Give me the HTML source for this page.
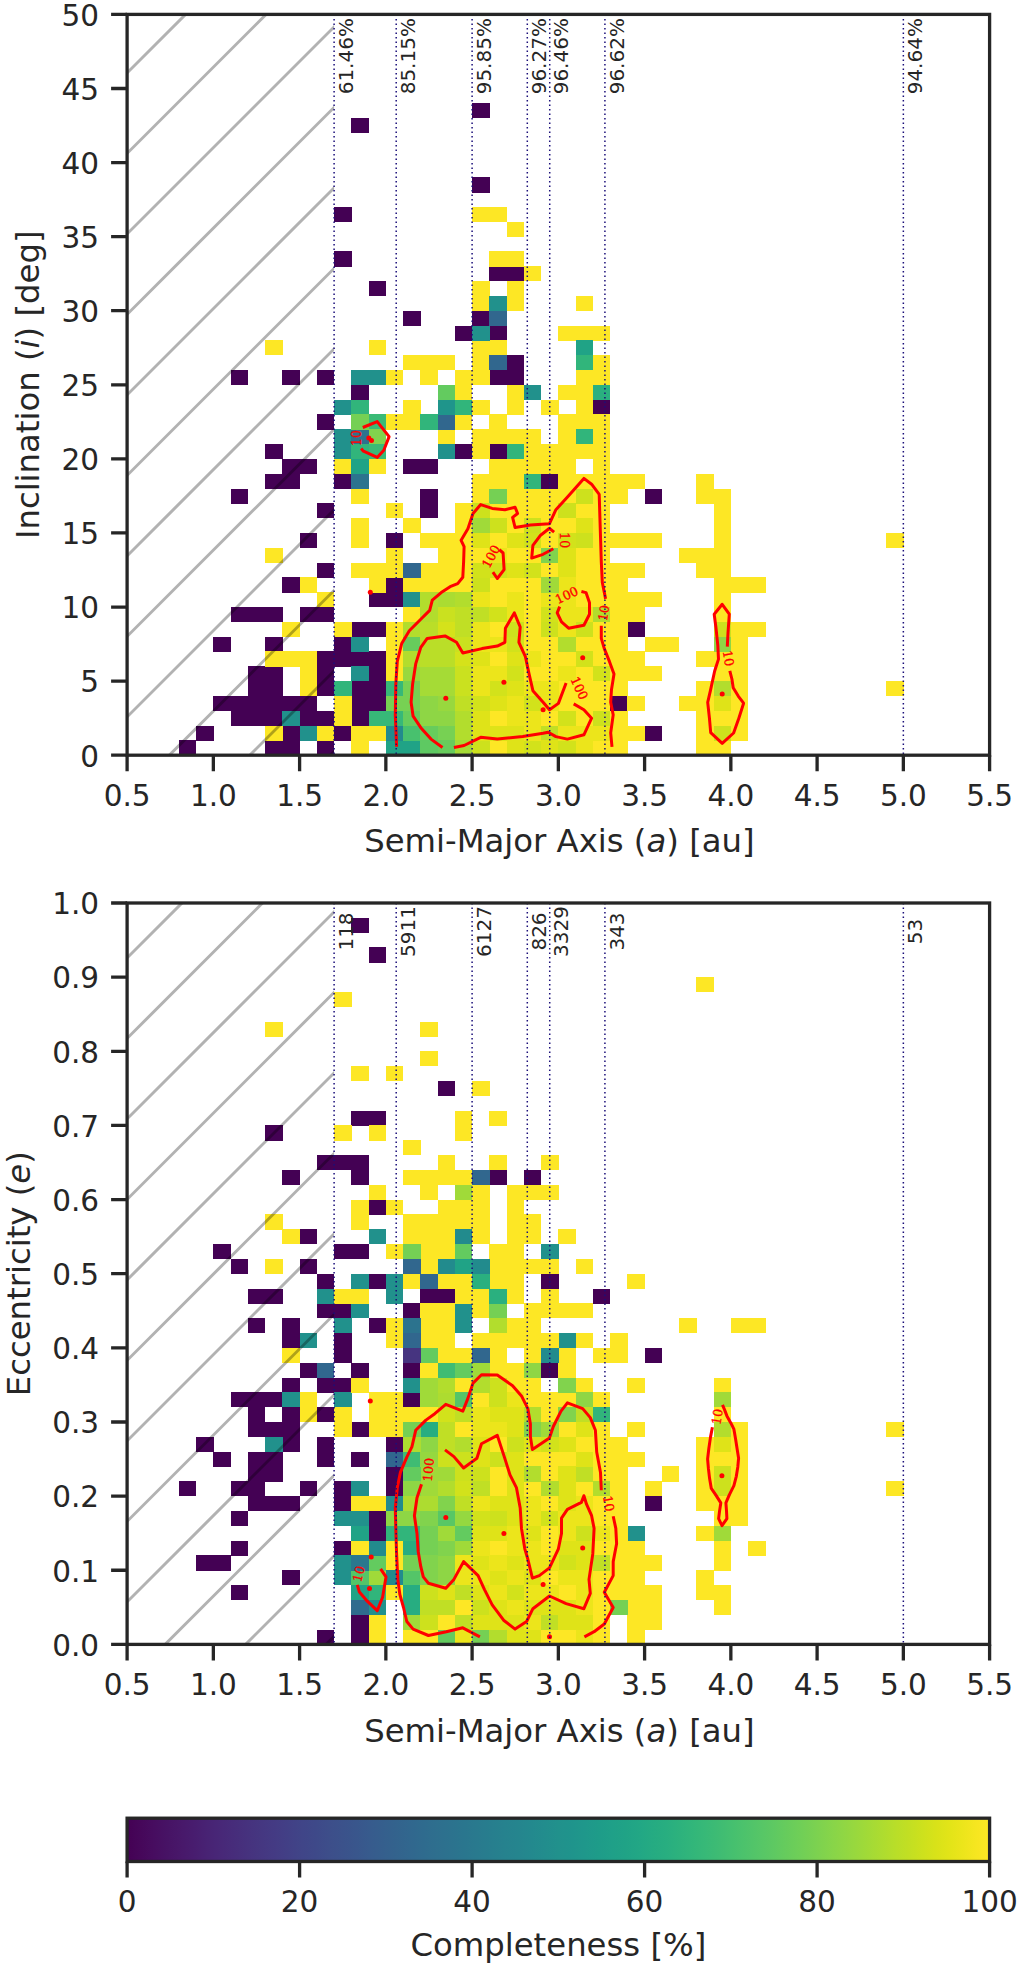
<!DOCTYPE html>
<html lang="en"><head><meta charset="utf-8"><title>Completeness</title>
<style>html,body{margin:0;padding:0;background:#fff}svg{display:block}</style></head>
<body>
<svg width="1020" height="1967" viewBox="0 0 1020 1967" font-family="'DejaVu Sans', 'Liberation Sans', sans-serif">
<rect width="1020" height="1967" fill="#fff"/>
<g id="plot1">
<clipPath id="clip1"><rect x="127.1" y="14.4" width="862.5" height="740.8000000000001"/></clipPath>
<clipPath id="hclip1"><rect x="127.1" y="14.4" width="207.00" height="740.8000000000001"/></clipPath>
<g shape-rendering="crispEdges">
<path fill="#440154" d="M178.85 740.38h17.55v15.12h-17.55zM196.10 725.57h17.55v15.12h-17.55zM213.35 695.94h17.55v15.12h-17.55zM213.35 636.67h17.55v15.12h-17.55zM230.60 710.75h17.55v15.12h-17.55zM230.60 695.94h17.55v15.12h-17.55zM230.60 607.04h17.55v15.12h-17.55zM230.60 488.51h17.55v15.12h-17.55zM230.60 369.98h17.55v15.12h-17.55zM247.85 710.75h17.55v15.12h-17.55zM247.85 695.94h17.55v15.12h-17.55zM247.85 681.12h17.55v15.12h-17.55zM247.85 666.30h17.55v15.12h-17.55zM247.85 607.04h17.55v15.12h-17.55zM265.10 740.38h17.55v15.12h-17.55zM265.10 710.75h17.55v15.12h-17.55zM265.10 695.94h17.55v15.12h-17.55zM265.10 681.12h17.55v15.12h-17.55zM265.10 666.30h17.55v15.12h-17.55zM265.10 636.67h17.55v15.12h-17.55zM265.10 607.04h17.55v15.12h-17.55zM265.10 473.70h17.55v15.12h-17.55zM265.10 444.06h17.55v15.12h-17.55zM282.35 740.38h17.55v15.12h-17.55zM282.35 725.57h17.55v15.12h-17.55zM282.35 695.94h17.55v15.12h-17.55zM282.35 577.41h17.55v15.12h-17.55zM282.35 473.70h17.55v15.12h-17.55zM282.35 458.88h17.55v15.12h-17.55zM282.35 369.98h17.55v15.12h-17.55zM299.60 710.75h17.55v15.12h-17.55zM299.60 695.94h17.55v15.12h-17.55zM299.60 607.04h17.55v15.12h-17.55zM299.60 532.96h17.55v15.12h-17.55zM299.60 458.88h17.55v15.12h-17.55zM316.85 740.38h17.55v15.12h-17.55zM316.85 710.75h17.55v15.12h-17.55zM316.85 681.12h17.55v15.12h-17.55zM316.85 666.30h17.55v15.12h-17.55zM316.85 651.49h17.55v15.12h-17.55zM316.85 607.04h17.55v15.12h-17.55zM316.85 562.59h17.55v15.12h-17.55zM316.85 503.33h17.55v15.12h-17.55zM316.85 414.43h17.55v15.12h-17.55zM316.85 369.98h17.55v15.12h-17.55zM334.10 725.57h17.55v15.12h-17.55zM334.10 651.49h17.55v15.12h-17.55zM334.10 636.67h17.55v15.12h-17.55zM334.10 473.70h17.55v15.12h-17.55zM334.10 251.46h17.55v15.12h-17.55zM334.10 207.01h17.55v15.12h-17.55zM351.35 710.75h17.55v15.12h-17.55zM351.35 695.94h17.55v15.12h-17.55zM351.35 681.12h17.55v15.12h-17.55zM351.35 651.49h17.55v15.12h-17.55zM351.35 621.86h17.55v15.12h-17.55zM351.35 384.80h17.55v15.12h-17.55zM351.35 118.11h17.55v15.12h-17.55zM368.60 695.94h17.55v15.12h-17.55zM368.60 681.12h17.55v15.12h-17.55zM368.60 666.30h17.55v15.12h-17.55zM368.60 651.49h17.55v15.12h-17.55zM368.60 621.86h17.55v15.12h-17.55zM368.60 592.22h17.55v15.12h-17.55zM368.60 281.09h17.55v15.12h-17.55zM385.85 592.22h17.55v15.12h-17.55zM385.85 577.41h17.55v15.12h-17.55zM385.85 532.96h17.55v15.12h-17.55zM403.10 458.88h17.55v15.12h-17.55zM403.10 310.72h17.55v15.12h-17.55zM420.35 503.33h17.55v15.12h-17.55zM420.35 488.51h17.55v15.12h-17.55zM420.35 458.88h17.55v15.12h-17.55zM454.85 444.06h17.55v15.12h-17.55zM454.85 325.54h17.55v15.12h-17.55zM472.10 310.72h17.55v15.12h-17.55zM472.10 177.38h17.55v15.12h-17.55zM472.10 103.30h17.55v15.12h-17.55zM489.35 444.06h17.55v15.12h-17.55zM489.35 369.98h17.55v15.12h-17.55zM489.35 325.54h17.55v15.12h-17.55zM489.35 266.27h17.55v15.12h-17.55zM506.60 369.98h17.55v15.12h-17.55zM506.60 355.17h17.55v15.12h-17.55zM506.60 266.27h17.55v15.12h-17.55zM541.10 473.70h17.55v15.12h-17.55zM592.85 399.62h17.55v15.12h-17.55zM610.10 695.94h17.55v15.12h-17.55zM627.35 621.86h17.55v15.12h-17.55zM644.60 725.57h17.55v15.12h-17.55zM644.60 488.51h17.55v15.12h-17.55z"/>
<path fill="#fde725" d="M265.10 725.57h17.55v15.12h-17.55zM265.10 651.49h17.55v15.12h-17.55zM265.10 547.78h17.55v15.12h-17.55zM265.10 340.35h17.55v15.12h-17.55zM282.35 651.49h17.55v15.12h-17.55zM282.35 621.86h17.55v15.12h-17.55zM299.60 681.12h17.55v15.12h-17.55zM299.60 666.30h17.55v15.12h-17.55zM299.60 651.49h17.55v15.12h-17.55zM299.60 577.41h17.55v15.12h-17.55zM316.85 725.57h17.55v15.12h-17.55zM316.85 592.22h17.55v15.12h-17.55zM334.10 710.75h17.55v15.12h-17.55zM334.10 695.94h17.55v15.12h-17.55zM334.10 621.86h17.55v15.12h-17.55zM334.10 458.88h17.55v15.12h-17.55zM351.35 740.38h17.55v15.12h-17.55zM351.35 725.57h17.55v15.12h-17.55zM351.35 562.59h17.55v15.12h-17.55zM351.35 532.96h17.55v15.12h-17.55zM351.35 518.14h17.55v15.12h-17.55zM351.35 488.51h17.55v15.12h-17.55zM368.60 725.57h17.55v15.12h-17.55zM368.60 577.41h17.55v15.12h-17.55zM368.60 562.59h17.55v15.12h-17.55zM368.60 458.88h17.55v15.12h-17.55zM368.60 340.35h17.55v15.12h-17.55zM385.85 666.30h17.55v15.12h-17.55zM385.85 651.49h17.55v15.12h-17.55zM385.85 636.67h17.55v15.12h-17.55zM385.85 621.86h17.55v15.12h-17.55zM385.85 562.59h17.55v15.12h-17.55zM385.85 547.78h17.55v15.12h-17.55zM385.85 503.33h17.55v15.12h-17.55zM385.85 414.43h17.55v15.12h-17.55zM385.85 369.98h17.55v15.12h-17.55zM403.10 607.04h17.55v15.12h-17.55zM403.10 577.41h17.55v15.12h-17.55zM403.10 518.14h17.55v15.12h-17.55zM403.10 414.43h17.55v15.12h-17.55zM403.10 399.62h17.55v15.12h-17.55zM403.10 355.17h17.55v15.12h-17.55zM420.35 577.41h17.55v15.12h-17.55zM420.35 562.59h17.55v15.12h-17.55zM420.35 532.96h17.55v15.12h-17.55zM420.35 369.98h17.55v15.12h-17.55zM420.35 355.17h17.55v15.12h-17.55zM437.60 577.41h17.55v15.12h-17.55zM437.60 562.59h17.55v15.12h-17.55zM437.60 547.78h17.55v15.12h-17.55zM437.60 532.96h17.55v15.12h-17.55zM437.60 429.25h17.55v15.12h-17.55zM437.60 355.17h17.55v15.12h-17.55zM454.85 577.41h17.55v15.12h-17.55zM454.85 562.59h17.55v15.12h-17.55zM454.85 547.78h17.55v15.12h-17.55zM454.85 532.96h17.55v15.12h-17.55zM454.85 518.14h17.55v15.12h-17.55zM454.85 503.33h17.55v15.12h-17.55zM454.85 414.43h17.55v15.12h-17.55zM454.85 384.80h17.55v15.12h-17.55zM454.85 369.98h17.55v15.12h-17.55zM472.10 547.78h17.55v15.12h-17.55zM472.10 488.51h17.55v15.12h-17.55zM472.10 473.70h17.55v15.12h-17.55zM472.10 444.06h17.55v15.12h-17.55zM472.10 429.25h17.55v15.12h-17.55zM472.10 399.62h17.55v15.12h-17.55zM472.10 369.98h17.55v15.12h-17.55zM472.10 355.17h17.55v15.12h-17.55zM472.10 340.35h17.55v15.12h-17.55zM472.10 295.90h17.55v15.12h-17.55zM472.10 281.09h17.55v15.12h-17.55zM472.10 207.01h17.55v15.12h-17.55zM489.35 740.38h17.55v15.12h-17.55zM489.35 710.75h17.55v15.12h-17.55zM489.35 651.49h17.55v15.12h-17.55zM489.35 621.86h17.55v15.12h-17.55zM489.35 592.22h17.55v15.12h-17.55zM489.35 577.41h17.55v15.12h-17.55zM489.35 532.96h17.55v15.12h-17.55zM489.35 503.33h17.55v15.12h-17.55zM489.35 473.70h17.55v15.12h-17.55zM489.35 458.88h17.55v15.12h-17.55zM489.35 429.25h17.55v15.12h-17.55zM489.35 414.43h17.55v15.12h-17.55zM489.35 340.35h17.55v15.12h-17.55zM489.35 251.46h17.55v15.12h-17.55zM489.35 207.01h17.55v15.12h-17.55zM506.60 577.41h17.55v15.12h-17.55zM506.60 547.78h17.55v15.12h-17.55zM506.60 518.14h17.55v15.12h-17.55zM506.60 503.33h17.55v15.12h-17.55zM506.60 488.51h17.55v15.12h-17.55zM506.60 473.70h17.55v15.12h-17.55zM506.60 458.88h17.55v15.12h-17.55zM506.60 429.25h17.55v15.12h-17.55zM506.60 399.62h17.55v15.12h-17.55zM506.60 384.80h17.55v15.12h-17.55zM506.60 295.90h17.55v15.12h-17.55zM506.60 281.09h17.55v15.12h-17.55zM506.60 251.46h17.55v15.12h-17.55zM506.60 221.82h17.55v15.12h-17.55zM523.85 666.30h17.55v15.12h-17.55zM523.85 636.67h17.55v15.12h-17.55zM523.85 621.86h17.55v15.12h-17.55zM523.85 607.04h17.55v15.12h-17.55zM523.85 592.22h17.55v15.12h-17.55zM523.85 577.41h17.55v15.12h-17.55zM523.85 547.78h17.55v15.12h-17.55zM523.85 503.33h17.55v15.12h-17.55zM523.85 488.51h17.55v15.12h-17.55zM523.85 458.88h17.55v15.12h-17.55zM523.85 444.06h17.55v15.12h-17.55zM523.85 429.25h17.55v15.12h-17.55zM523.85 266.27h17.55v15.12h-17.55zM541.10 710.75h17.55v15.12h-17.55zM541.10 666.30h17.55v15.12h-17.55zM541.10 651.49h17.55v15.12h-17.55zM541.10 636.67h17.55v15.12h-17.55zM541.10 562.59h17.55v15.12h-17.55zM541.10 532.96h17.55v15.12h-17.55zM541.10 518.14h17.55v15.12h-17.55zM541.10 503.33h17.55v15.12h-17.55zM541.10 488.51h17.55v15.12h-17.55zM541.10 458.88h17.55v15.12h-17.55zM541.10 444.06h17.55v15.12h-17.55zM541.10 399.62h17.55v15.12h-17.55zM558.35 695.94h17.55v15.12h-17.55zM558.35 681.12h17.55v15.12h-17.55zM558.35 651.49h17.55v15.12h-17.55zM558.35 518.14h17.55v15.12h-17.55zM558.35 488.51h17.55v15.12h-17.55zM558.35 473.70h17.55v15.12h-17.55zM558.35 458.88h17.55v15.12h-17.55zM558.35 444.06h17.55v15.12h-17.55zM558.35 429.25h17.55v15.12h-17.55zM558.35 414.43h17.55v15.12h-17.55zM558.35 384.80h17.55v15.12h-17.55zM558.35 325.54h17.55v15.12h-17.55zM575.60 710.75h17.55v15.12h-17.55zM575.60 695.94h17.55v15.12h-17.55zM575.60 681.12h17.55v15.12h-17.55zM575.60 666.30h17.55v15.12h-17.55zM575.60 636.67h17.55v15.12h-17.55zM575.60 592.22h17.55v15.12h-17.55zM575.60 577.41h17.55v15.12h-17.55zM575.60 562.59h17.55v15.12h-17.55zM575.60 547.78h17.55v15.12h-17.55zM575.60 503.33h17.55v15.12h-17.55zM575.60 473.70h17.55v15.12h-17.55zM575.60 444.06h17.55v15.12h-17.55zM575.60 414.43h17.55v15.12h-17.55zM575.60 399.62h17.55v15.12h-17.55zM575.60 384.80h17.55v15.12h-17.55zM575.60 369.98h17.55v15.12h-17.55zM575.60 325.54h17.55v15.12h-17.55zM575.60 295.90h17.55v15.12h-17.55zM592.85 740.38h17.55v15.12h-17.55zM592.85 695.94h17.55v15.12h-17.55zM592.85 681.12h17.55v15.12h-17.55zM592.85 651.49h17.55v15.12h-17.55zM592.85 636.67h17.55v15.12h-17.55zM592.85 621.86h17.55v15.12h-17.55zM592.85 592.22h17.55v15.12h-17.55zM592.85 577.41h17.55v15.12h-17.55zM592.85 562.59h17.55v15.12h-17.55zM592.85 547.78h17.55v15.12h-17.55zM592.85 532.96h17.55v15.12h-17.55zM592.85 518.14h17.55v15.12h-17.55zM592.85 503.33h17.55v15.12h-17.55zM592.85 488.51h17.55v15.12h-17.55zM592.85 473.70h17.55v15.12h-17.55zM592.85 458.88h17.55v15.12h-17.55zM592.85 444.06h17.55v15.12h-17.55zM592.85 429.25h17.55v15.12h-17.55zM592.85 414.43h17.55v15.12h-17.55zM592.85 369.98h17.55v15.12h-17.55zM592.85 355.17h17.55v15.12h-17.55zM592.85 325.54h17.55v15.12h-17.55zM610.10 740.38h17.55v15.12h-17.55zM610.10 725.57h17.55v15.12h-17.55zM610.10 710.75h17.55v15.12h-17.55zM610.10 681.12h17.55v15.12h-17.55zM610.10 666.30h17.55v15.12h-17.55zM610.10 651.49h17.55v15.12h-17.55zM610.10 636.67h17.55v15.12h-17.55zM610.10 621.86h17.55v15.12h-17.55zM610.10 607.04h17.55v15.12h-17.55zM610.10 592.22h17.55v15.12h-17.55zM610.10 577.41h17.55v15.12h-17.55zM610.10 562.59h17.55v15.12h-17.55zM610.10 532.96h17.55v15.12h-17.55zM610.10 488.51h17.55v15.12h-17.55zM610.10 473.70h17.55v15.12h-17.55zM627.35 725.57h17.55v15.12h-17.55zM627.35 695.94h17.55v15.12h-17.55zM627.35 666.30h17.55v15.12h-17.55zM627.35 651.49h17.55v15.12h-17.55zM627.35 607.04h17.55v15.12h-17.55zM627.35 592.22h17.55v15.12h-17.55zM627.35 562.59h17.55v15.12h-17.55zM627.35 532.96h17.55v15.12h-17.55zM627.35 473.70h17.55v15.12h-17.55zM644.60 666.30h17.55v15.12h-17.55zM644.60 636.67h17.55v15.12h-17.55zM644.60 592.22h17.55v15.12h-17.55zM644.60 532.96h17.55v15.12h-17.55zM661.85 636.67h17.55v15.12h-17.55zM679.10 695.94h17.55v15.12h-17.55zM679.10 547.78h17.55v15.12h-17.55zM696.35 740.38h17.55v15.12h-17.55zM696.35 725.57h17.55v15.12h-17.55zM696.35 710.75h17.55v15.12h-17.55zM696.35 695.94h17.55v15.12h-17.55zM696.35 681.12h17.55v15.12h-17.55zM696.35 651.49h17.55v15.12h-17.55zM696.35 562.59h17.55v15.12h-17.55zM696.35 547.78h17.55v15.12h-17.55zM696.35 488.51h17.55v15.12h-17.55zM696.35 473.70h17.55v15.12h-17.55zM713.60 740.38h17.55v15.12h-17.55zM713.60 710.75h17.55v15.12h-17.55zM713.60 666.30h17.55v15.12h-17.55zM713.60 651.49h17.55v15.12h-17.55zM713.60 607.04h17.55v15.12h-17.55zM713.60 592.22h17.55v15.12h-17.55zM713.60 577.41h17.55v15.12h-17.55zM713.60 562.59h17.55v15.12h-17.55zM713.60 547.78h17.55v15.12h-17.55zM713.60 532.96h17.55v15.12h-17.55zM713.60 518.14h17.55v15.12h-17.55zM713.60 503.33h17.55v15.12h-17.55zM713.60 488.51h17.55v15.12h-17.55zM730.85 725.57h17.55v15.12h-17.55zM730.85 710.75h17.55v15.12h-17.55zM730.85 695.94h17.55v15.12h-17.55zM730.85 681.12h17.55v15.12h-17.55zM730.85 666.30h17.55v15.12h-17.55zM730.85 651.49h17.55v15.12h-17.55zM730.85 636.67h17.55v15.12h-17.55zM730.85 621.86h17.55v15.12h-17.55zM730.85 577.41h17.55v15.12h-17.55zM748.10 621.86h17.55v15.12h-17.55zM748.10 577.41h17.55v15.12h-17.55zM886.10 681.12h17.55v15.12h-17.55zM886.10 532.96h17.55v15.12h-17.55z"/>
<path fill="#21918c" d="M282.35 710.75h17.55v15.12h-17.55zM299.60 725.57h17.55v15.12h-17.55zM334.10 444.06h17.55v15.12h-17.55zM334.10 429.25h17.55v15.12h-17.55zM334.10 399.62h17.55v15.12h-17.55zM351.35 666.30h17.55v15.12h-17.55zM351.35 636.67h17.55v15.12h-17.55zM351.35 369.98h17.55v15.12h-17.55zM368.60 369.98h17.55v15.12h-17.55zM403.10 592.22h17.55v15.12h-17.55zM437.60 444.06h17.55v15.12h-17.55zM472.10 325.54h17.55v15.12h-17.55zM489.35 295.90h17.55v15.12h-17.55zM523.85 384.80h17.55v15.12h-17.55z"/>
<path fill="#31b57b" d="M334.10 681.12h17.55v15.12h-17.55zM351.35 444.06h17.55v15.12h-17.55zM351.35 399.62h17.55v15.12h-17.55zM420.35 414.43h17.55v15.12h-17.55zM454.85 399.62h17.55v15.12h-17.55zM506.60 444.06h17.55v15.12h-17.55zM523.85 473.70h17.55v15.12h-17.55zM575.60 429.25h17.55v15.12h-17.55zM575.60 355.17h17.55v15.12h-17.55z"/>
<path fill="#2c738e" d="M351.35 473.70h17.55v15.12h-17.55zM351.35 429.25h17.55v15.12h-17.55z"/>
<path fill="#20a386" d="M351.35 458.88h17.55v15.12h-17.55zM385.85 740.38h17.55v15.12h-17.55zM403.10 740.38h17.55v15.12h-17.55zM575.60 340.35h17.55v15.12h-17.55z"/>
<path fill="#75d054" d="M351.35 414.43h17.55v15.12h-17.55zM489.35 488.51h17.55v15.12h-17.55z"/>
<path fill="#37b878" d="M368.60 710.75h17.55v15.12h-17.55zM385.85 710.75h17.55v15.12h-17.55zM385.85 681.12h17.55v15.12h-17.55z"/>
<path fill="#3aba76" d="M368.60 444.06h17.55v15.12h-17.55zM368.60 414.43h17.55v15.12h-17.55z"/>
<path fill="#81d34d" d="M368.60 429.25h17.55v15.12h-17.55zM541.10 547.78h17.55v15.12h-17.55z"/>
<path fill="#228b8d" d="M385.85 725.57h17.55v15.12h-17.55z"/>
<path fill="#77d153" d="M385.85 695.94h17.55v15.12h-17.55zM403.10 695.94h17.55v15.12h-17.55zM403.10 681.12h17.55v15.12h-17.55zM437.60 725.57h17.55v15.12h-17.55z"/>
<path fill="#48c16e" d="M403.10 725.57h17.55v15.12h-17.55z"/>
<path fill="#67cc5c" d="M403.10 710.75h17.55v15.12h-17.55zM403.10 636.67h17.55v15.12h-17.55zM420.35 725.57h17.55v15.12h-17.55zM437.60 740.38h17.55v15.12h-17.55z"/>
<path fill="#98d83e" d="M403.10 666.30h17.55v15.12h-17.55zM437.60 695.94h17.55v15.12h-17.55z"/>
<path fill="#b2dd2d" d="M403.10 651.49h17.55v15.12h-17.55zM403.10 621.86h17.55v15.12h-17.55zM420.35 607.04h17.55v15.12h-17.55zM420.35 592.22h17.55v15.12h-17.55zM454.85 725.57h17.55v15.12h-17.55zM454.85 710.75h17.55v15.12h-17.55zM454.85 592.22h17.55v15.12h-17.55zM558.35 636.67h17.55v15.12h-17.55zM592.85 607.04h17.55v15.12h-17.55zM713.60 681.12h17.55v15.12h-17.55z"/>
<path fill="#31678e" d="M403.10 562.59h17.55v15.12h-17.55zM437.60 414.43h17.55v15.12h-17.55zM489.35 355.17h17.55v15.12h-17.55zM489.35 310.72h17.55v15.12h-17.55z"/>
<path fill="#5ec962" d="M420.35 740.38h17.55v15.12h-17.55z"/>
<path fill="#8ed645" d="M420.35 710.75h17.55v15.12h-17.55zM420.35 695.94h17.55v15.12h-17.55zM437.60 710.75h17.55v15.12h-17.55zM713.60 636.67h17.55v15.12h-17.55z"/>
<path fill="#a5db36" d="M420.35 681.12h17.55v15.12h-17.55zM420.35 666.30h17.55v15.12h-17.55zM437.60 681.12h17.55v15.12h-17.55zM437.60 666.30h17.55v15.12h-17.55zM454.85 740.38h17.55v15.12h-17.55z"/>
<path fill="#bade28" d="M420.35 651.49h17.55v15.12h-17.55zM420.35 636.67h17.55v15.12h-17.55zM420.35 621.86h17.55v15.12h-17.55zM437.60 651.49h17.55v15.12h-17.55zM437.60 636.67h17.55v15.12h-17.55z"/>
<path fill="#d5e21a" d="M437.60 621.86h17.55v15.12h-17.55zM454.85 651.49h17.55v15.12h-17.55z"/>
<path fill="#cae11f" d="M437.60 607.04h17.55v15.12h-17.55zM454.85 681.12h17.55v15.12h-17.55zM454.85 666.30h17.55v15.12h-17.55zM454.85 636.67h17.55v15.12h-17.55z"/>
<path fill="#aadc32" d="M437.60 592.22h17.55v15.12h-17.55z"/>
<path fill="#1f958b" d="M437.60 399.62h17.55v15.12h-17.55z"/>
<path fill="#63cb5f" d="M437.60 384.80h17.55v15.12h-17.55z"/>
<path fill="#c0df25" d="M454.85 695.94h17.55v15.12h-17.55zM454.85 621.86h17.55v15.12h-17.55zM454.85 607.04h17.55v15.12h-17.55zM472.10 607.04h17.55v15.12h-17.55zM541.10 725.57h17.55v15.12h-17.55z"/>
<path fill="#cde11d" d="M472.10 740.38h17.55v15.12h-17.55zM472.10 577.41h17.55v15.12h-17.55zM472.10 503.33h17.55v15.12h-17.55zM489.35 518.14h17.55v15.12h-17.55zM506.60 621.86h17.55v15.12h-17.55zM523.85 518.14h17.55v15.12h-17.55zM541.10 621.86h17.55v15.12h-17.55zM558.35 503.33h17.55v15.12h-17.55zM575.60 621.86h17.55v15.12h-17.55zM575.60 532.96h17.55v15.12h-17.55zM575.60 488.51h17.55v15.12h-17.55zM592.85 710.75h17.55v15.12h-17.55zM713.60 725.57h17.55v15.12h-17.55zM713.60 621.86h17.55v15.12h-17.55z"/>
<path fill="#dfe318" d="M472.10 725.57h17.55v15.12h-17.55zM472.10 710.75h17.55v15.12h-17.55zM472.10 651.49h17.55v15.12h-17.55zM472.10 532.96h17.55v15.12h-17.55zM489.35 725.57h17.55v15.12h-17.55zM489.35 695.94h17.55v15.12h-17.55zM506.60 740.38h17.55v15.12h-17.55zM506.60 725.57h17.55v15.12h-17.55zM506.60 681.12h17.55v15.12h-17.55zM506.60 651.49h17.55v15.12h-17.55zM506.60 562.59h17.55v15.12h-17.55zM506.60 532.96h17.55v15.12h-17.55zM541.10 740.38h17.55v15.12h-17.55zM558.35 562.59h17.55v15.12h-17.55zM558.35 547.78h17.55v15.12h-17.55zM575.60 518.14h17.55v15.12h-17.55zM713.60 695.94h17.55v15.12h-17.55z"/>
<path fill="#d2e21b" d="M472.10 695.94h17.55v15.12h-17.55zM472.10 562.59h17.55v15.12h-17.55zM489.35 681.12h17.55v15.12h-17.55zM489.35 607.04h17.55v15.12h-17.55zM489.35 562.59h17.55v15.12h-17.55zM506.60 666.30h17.55v15.12h-17.55zM506.60 636.67h17.55v15.12h-17.55zM523.85 740.38h17.55v15.12h-17.55zM523.85 695.94h17.55v15.12h-17.55zM523.85 562.59h17.55v15.12h-17.55zM523.85 532.96h17.55v15.12h-17.55zM541.10 607.04h17.55v15.12h-17.55zM558.35 740.38h17.55v15.12h-17.55zM558.35 710.75h17.55v15.12h-17.55zM558.35 532.96h17.55v15.12h-17.55zM575.60 651.49h17.55v15.12h-17.55zM592.85 666.30h17.55v15.12h-17.55z"/>
<path fill="#ece51b" d="M472.10 681.12h17.55v15.12h-17.55zM472.10 666.30h17.55v15.12h-17.55zM472.10 636.67h17.55v15.12h-17.55zM472.10 621.86h17.55v15.12h-17.55zM472.10 592.22h17.55v15.12h-17.55zM489.35 666.30h17.55v15.12h-17.55zM489.35 636.67h17.55v15.12h-17.55zM489.35 547.78h17.55v15.12h-17.55zM506.60 710.75h17.55v15.12h-17.55zM506.60 695.94h17.55v15.12h-17.55zM506.60 607.04h17.55v15.12h-17.55zM506.60 592.22h17.55v15.12h-17.55zM523.85 725.57h17.55v15.12h-17.55zM523.85 710.75h17.55v15.12h-17.55zM523.85 681.12h17.55v15.12h-17.55zM523.85 651.49h17.55v15.12h-17.55zM541.10 695.94h17.55v15.12h-17.55zM541.10 681.12h17.55v15.12h-17.55zM541.10 592.22h17.55v15.12h-17.55zM558.35 725.57h17.55v15.12h-17.55zM558.35 666.30h17.55v15.12h-17.55zM558.35 621.86h17.55v15.12h-17.55zM558.35 607.04h17.55v15.12h-17.55zM558.35 592.22h17.55v15.12h-17.55zM558.35 577.41h17.55v15.12h-17.55zM575.60 740.38h17.55v15.12h-17.55zM575.60 725.57h17.55v15.12h-17.55zM575.60 607.04h17.55v15.12h-17.55zM592.85 725.57h17.55v15.12h-17.55z"/>
<path fill="#a0da39" d="M472.10 518.14h17.55v15.12h-17.55zM541.10 577.41h17.55v15.12h-17.55z"/>
<path fill="#2ab07f" d="M592.85 384.80h17.55v15.12h-17.55z"/>
</g>
<g clip-path="url(#hclip1)" stroke="#000" stroke-opacity="0.3" stroke-width="3.0" fill="none">
<path d="M122.1 -83.1L339.1 -300.1M122.1 -2.6L339.1 -219.6M122.1 77.9L339.1 -139.1M122.1 158.4L339.1 -58.6M122.1 238.9L339.1 21.9M122.1 319.4L339.1 102.4M122.1 399.9L339.1 182.9M122.1 480.4L339.1 263.4M122.1 560.9L339.1 343.9M122.1 641.4L339.1 424.4M122.1 721.9L339.1 504.9M122.1 802.4L339.1 585.4M122.1 882.9L339.1 665.9M122.1 963.4L339.1 746.4M122.1 1043.9L339.1 826.9M122.1 1124.4L339.1 907.4M122.1 1204.9L339.1 987.9M122.1 1285.4L339.1 1068.4"/></g>
<g clip-path="url(#clip1)">
<path d="M396.6 746.8L395.3 714.9L395.8 684.3L397.3 661.4L401.7 643.5L409.3 630.8L420.8 619.3L429.7 610.4L432.3 600.2L441.2 592.6L450.1 586.7L457.7 583.6L462.8 577.3L463.6 562.0L464.1 546.7L461.1 540.3L467.9 528.8L473.0 513.5L480.7 504.6L492.2 508.4L504.9 509.7L515.1 507.2L517.6 513.5L512.6 517.4L515.1 527.6L530.4 525.0L549.5 523.7L555.9 509.7L568.6 495.7L583.9 478.4L591.6 484.2L599.2 494.4L599.7 511.0L600.5 536.5L601.3 562.0L602.3 582.4L605.6 598.9" fill="none" stroke="#ff0000" stroke-width="3.0" stroke-linejoin="round" stroke-linecap="butt"/>
<path d="M601.3 625.7L601.3 638.4L604.3 648.6L609.4 661.4L614.0 674.1L611.5 689.4L610.7 702.2L613.2 714.9L610.7 732.8L612.0 746.8" fill="none" stroke="#ff0000" stroke-width="3.0" stroke-linejoin="round" stroke-linecap="butt"/>
<text transform="translate(603.6 612.9) rotate(-80)" text-anchor="middle" dy="0.36em" font-family="'DejaVu Serif', 'Liberation Serif', serif" font-size="12.5" fill="#ff0000" stroke="#ff0000" stroke-width="0.35">10</text>
<path d="M554.1 532.1L549.5 528.3L540.6 535.2L532.9 545.4L531.7 558.1L543.1 554.3L553.3 548.7" fill="none" stroke="#ff0000" stroke-width="3.0" stroke-linejoin="round" stroke-linecap="butt"/>
<text transform="translate(564.0 540.3) rotate(90)" text-anchor="middle" dy="0.36em" font-family="'DejaVu Serif', 'Liberation Serif', serif" font-size="12.5" fill="#ff0000" stroke="#ff0000" stroke-width="0.35">10</text>
<path d="M442.5 747.5L431.0 739.1L420.8 727.7L413.1 716.2L411.1 702.2L412.6 684.3L415.7 663.9L420.8 647.4L427.2 638.4L445.0 635.9L456.5 642.3L462.8 653.0L482.0 648.6L497.3 646.1L504.9 642.3L505.4 628.2L514.3 612.9L520.2 627.0L518.9 642.3L525.3 656.3L529.1 674.1L532.9 690.7L543.1 702.2L549.5 709.8L558.4 703.4L566.1 683.0" fill="none" stroke="#ff0000" stroke-width="3.0" stroke-linejoin="round" stroke-linecap="butt"/>
<path d="M573.7 703.9L583.9 709.8L591.6 718.2L583.9 734.8L567.4 739.1L555.9 736.6L548.2 732.2L543.1 733.3L522.7 736.6L497.3 739.1L480.7 737.3L464.1 745.5L453.9 747.5" fill="none" stroke="#ff0000" stroke-width="3.0" stroke-linejoin="round" stroke-linecap="butt"/>
<text transform="translate(579.3 688.1) rotate(65)" text-anchor="middle" dy="0.36em" font-family="'DejaVu Serif', 'Liberation Serif', serif" font-size="12.5" fill="#ff0000" stroke="#ff0000" stroke-width="0.35">100</text>
<path d="M499.3 549.7L503.1 553.0L504.1 569.6L497.3 578.5L492.9 572.2" fill="none" stroke="#ff0000" stroke-width="3.0" stroke-linejoin="round" stroke-linecap="butt"/>
<text transform="translate(490.9 556.4) rotate(-62)" text-anchor="middle" dy="0.36em" font-family="'DejaVu Serif', 'Liberation Serif', serif" font-size="12.5" fill="#ff0000" stroke="#ff0000" stroke-width="0.35">100</text>
<path d="M581.4 591.5L586.0 592.6L589.5 602.7L589.5 614.2L583.9 625.2L568.6 628.2L561.5 621.9L557.2 612.9L559.7 606.6" fill="none" stroke="#ff0000" stroke-width="3.0" stroke-linejoin="round" stroke-linecap="butt"/>
<text transform="translate(566.6 595.1) rotate(-25)" text-anchor="middle" dy="0.36em" font-family="'DejaVu Serif', 'Liberation Serif', serif" font-size="12.5" fill="#ff0000" stroke="#ff0000" stroke-width="0.35">100</text>
<circle cx="445.8" cy="698.3" r="2.5" fill="#ff0000"/>
<circle cx="503.9" cy="682.3" r="2.5" fill="#ff0000"/>
<circle cx="543.1" cy="709.8" r="2.5" fill="#ff0000"/>
<circle cx="582.7" cy="657.8" r="2.5" fill="#ff0000"/>
<path d="M362.8 427.5L377.2 421.6L389.1 436.6L383.8 450.3L377.2 457.4L363.5 451.2L361.1 448.4" fill="none" stroke="#ff0000" stroke-width="3.0" stroke-linejoin="round" stroke-linecap="butt"/>
<text transform="translate(356.9 438.1) rotate(-90)" text-anchor="middle" dy="0.36em" font-family="'DejaVu Serif', 'Liberation Serif', serif" font-size="12.5" fill="#ff0000" stroke="#ff0000" stroke-width="0.35">10</text>
<circle cx="368.8" cy="438.0" r="2.5" fill="#ff0000"/>
<circle cx="371.5" cy="440.6" r="2.5" fill="#ff0000"/>
<circle cx="370.3" cy="592.2" r="2.5" fill="#ff0000"/>
<path d="M727.3 646.6L728.0 633.2L729.3 614.2L722.2 604.3L714.2 614.2L715.9 627.2L717.8 645.3L718.5 659.1L714.6 671.2L710.7 689.4L707.7 702.4L709.4 717.9L710.7 732.6L722.2 743.4L733.6 733.0L738.4 719.6L743.6 703.2L738.4 696.3L733.2 687.7L731.9 679.0L729.8 670.8" fill="none" stroke="#ff0000" stroke-width="3.0" stroke-linejoin="round" stroke-linecap="butt"/>
<text transform="translate(728.5 658.3) rotate(80)" text-anchor="middle" dy="0.36em" font-family="'DejaVu Serif', 'Liberation Serif', serif" font-size="12.5" fill="#ff0000" stroke="#ff0000" stroke-width="0.35">10</text>
<circle cx="722.2" cy="694.1" r="2.5" fill="#ff0000"/>
</g>
<line x1="334.10" y1="14.4" x2="334.10" y2="755.2" stroke="#1b0f7a" stroke-width="1.5" stroke-dasharray="1.5 3.0"/>
<line x1="396.20" y1="14.4" x2="396.20" y2="755.2" stroke="#1b0f7a" stroke-width="1.5" stroke-dasharray="1.5 3.0"/>
<line x1="472.10" y1="14.4" x2="472.10" y2="755.2" stroke="#1b0f7a" stroke-width="1.5" stroke-dasharray="1.5 3.0"/>
<line x1="527.30" y1="14.4" x2="527.30" y2="755.2" stroke="#1b0f7a" stroke-width="1.5" stroke-dasharray="1.5 3.0"/>
<line x1="549.73" y1="14.4" x2="549.73" y2="755.2" stroke="#1b0f7a" stroke-width="1.5" stroke-dasharray="1.5 3.0"/>
<line x1="604.92" y1="14.4" x2="604.92" y2="755.2" stroke="#1b0f7a" stroke-width="1.5" stroke-dasharray="1.5 3.0"/>
<line x1="903.35" y1="14.4" x2="903.35" y2="755.2" stroke="#1b0f7a" stroke-width="1.5" stroke-dasharray="1.5 3.0"/>
<text transform="translate(352.70 56.2) rotate(-90)" text-anchor="middle" font-size="20.0" fill="#262626">61.46%</text>
<text transform="translate(414.80 56.2) rotate(-90)" text-anchor="middle" font-size="20.0" fill="#262626">85.15%</text>
<text transform="translate(490.70 56.2) rotate(-90)" text-anchor="middle" font-size="20.0" fill="#262626">95.85%</text>
<text transform="translate(545.90 56.2) rotate(-90)" text-anchor="middle" font-size="20.0" fill="#262626">96.27%</text>
<text transform="translate(568.33 56.2) rotate(-90)" text-anchor="middle" font-size="20.0" fill="#262626">96.46%</text>
<text transform="translate(623.52 56.2) rotate(-90)" text-anchor="middle" font-size="20.0" fill="#262626">96.62%</text>
<text transform="translate(921.95 56.2) rotate(-90)" text-anchor="middle" font-size="20.0" fill="#262626">94.64%</text>
<rect x="127.1" y="14.4" width="862.5" height="740.8000000000001" fill="none" stroke="#262626" stroke-width="3.3"/>
<path d="M127.10 755.2v16.0M213.35 755.2v16.0M299.60 755.2v16.0M385.85 755.2v16.0M472.10 755.2v16.0M558.35 755.2v16.0M644.60 755.2v16.0M730.85 755.2v16.0M817.10 755.2v16.0M903.35 755.2v16.0M989.60 755.2v16.0M127.1 755.20h-16.0M127.1 681.12h-16.0M127.1 607.04h-16.0M127.1 532.96h-16.0M127.1 458.88h-16.0M127.1 384.80h-16.0M127.1 310.72h-16.0M127.1 236.64h-16.0M127.1 162.56h-16.0M127.1 88.48h-16.0M127.1 14.40h-16.0" stroke="#262626" stroke-width="3.3" fill="none"/>
<g font-size="29.5" fill="#262626">
<text x="127.10" y="805.8" text-anchor="middle">0.5</text>
<text x="213.35" y="805.8" text-anchor="middle">1.0</text>
<text x="299.60" y="805.8" text-anchor="middle">1.5</text>
<text x="385.85" y="805.8" text-anchor="middle">2.0</text>
<text x="472.10" y="805.8" text-anchor="middle">2.5</text>
<text x="558.35" y="805.8" text-anchor="middle">3.0</text>
<text x="644.60" y="805.8" text-anchor="middle">3.5</text>
<text x="730.85" y="805.8" text-anchor="middle">4.0</text>
<text x="817.10" y="805.8" text-anchor="middle">4.5</text>
<text x="903.35" y="805.8" text-anchor="middle">5.0</text>
<text x="989.60" y="805.8" text-anchor="middle">5.5</text>
<text x="99.1" y="766.50" text-anchor="end">0</text>
<text x="99.1" y="692.42" text-anchor="end">5</text>
<text x="99.1" y="618.34" text-anchor="end">10</text>
<text x="99.1" y="544.26" text-anchor="end">15</text>
<text x="99.1" y="470.18" text-anchor="end">20</text>
<text x="99.1" y="396.10" text-anchor="end">25</text>
<text x="99.1" y="322.02" text-anchor="end">30</text>
<text x="99.1" y="247.94" text-anchor="end">35</text>
<text x="99.1" y="173.86" text-anchor="end">40</text>
<text x="99.1" y="99.78" text-anchor="end">45</text>
<text x="99.1" y="25.70" text-anchor="end">50</text>
</g>
<text x="559.4" y="852.4" text-anchor="middle" font-size="32.3" fill="#262626">Semi-Major Axis (<tspan font-style="italic">a</tspan>) [au]</text>
<text transform="translate(38.6 384.8) rotate(-90)" text-anchor="middle" font-size="32.3" fill="#262626">Inclination (<tspan font-style="italic">i</tspan>) [deg]</text>
</g>
<g id="plot2">
<clipPath id="clip2"><rect x="127.1" y="903.0" width="862.5" height="741.4000000000001"/></clipPath>
<clipPath id="hclip2"><rect x="127.1" y="903.0" width="207.00" height="741.4000000000001"/></clipPath>
<g shape-rendering="crispEdges">
<path fill="#440154" d="M178.85 1481.29h17.55v15.13h-17.55zM196.10 1555.43h17.55v15.13h-17.55zM196.10 1436.81h17.55v15.13h-17.55zM213.35 1555.43h17.55v15.13h-17.55zM213.35 1451.64h17.55v15.13h-17.55zM213.35 1244.04h17.55v15.13h-17.55zM230.60 1585.09h17.55v15.13h-17.55zM230.60 1540.60h17.55v15.13h-17.55zM230.60 1510.95h17.55v15.13h-17.55zM230.60 1481.29h17.55v15.13h-17.55zM230.60 1392.32h17.55v15.13h-17.55zM230.60 1258.87h17.55v15.13h-17.55zM247.85 1496.12h17.55v15.13h-17.55zM247.85 1481.29h17.55v15.13h-17.55zM247.85 1466.46h17.55v15.13h-17.55zM247.85 1451.64h17.55v15.13h-17.55zM247.85 1421.98h17.55v15.13h-17.55zM247.85 1407.15h17.55v15.13h-17.55zM247.85 1392.32h17.55v15.13h-17.55zM247.85 1318.18h17.55v15.13h-17.55zM247.85 1288.53h17.55v15.13h-17.55zM265.10 1496.12h17.55v15.13h-17.55zM265.10 1466.46h17.55v15.13h-17.55zM265.10 1451.64h17.55v15.13h-17.55zM265.10 1421.98h17.55v15.13h-17.55zM265.10 1392.32h17.55v15.13h-17.55zM265.10 1288.53h17.55v15.13h-17.55zM265.10 1125.42h17.55v15.13h-17.55zM282.35 1570.26h17.55v15.13h-17.55zM282.35 1496.12h17.55v15.13h-17.55zM282.35 1436.81h17.55v15.13h-17.55zM282.35 1421.98h17.55v15.13h-17.55zM282.35 1407.15h17.55v15.13h-17.55zM282.35 1377.50h17.55v15.13h-17.55zM282.35 1333.01h17.55v15.13h-17.55zM282.35 1318.18h17.55v15.13h-17.55zM282.35 1169.90h17.55v15.13h-17.55zM299.60 1481.29h17.55v15.13h-17.55zM299.60 1362.67h17.55v15.13h-17.55zM299.60 1258.87h17.55v15.13h-17.55zM299.60 1229.22h17.55v15.13h-17.55zM316.85 1629.57h17.55v15.13h-17.55zM316.85 1451.64h17.55v15.13h-17.55zM316.85 1436.81h17.55v15.13h-17.55zM316.85 1407.15h17.55v15.13h-17.55zM316.85 1377.50h17.55v15.13h-17.55zM316.85 1303.36h17.55v15.13h-17.55zM316.85 1273.70h17.55v15.13h-17.55zM316.85 1155.08h17.55v15.13h-17.55zM334.10 1540.60h17.55v15.13h-17.55zM334.10 1496.12h17.55v15.13h-17.55zM334.10 1481.29h17.55v15.13h-17.55zM334.10 1377.50h17.55v15.13h-17.55zM334.10 1347.84h17.55v15.13h-17.55zM334.10 1333.01h17.55v15.13h-17.55zM334.10 1303.36h17.55v15.13h-17.55zM334.10 1244.04h17.55v15.13h-17.55zM334.10 1155.08h17.55v15.13h-17.55zM351.35 1629.57h17.55v15.13h-17.55zM351.35 1614.74h17.55v15.13h-17.55zM351.35 1451.64h17.55v15.13h-17.55zM351.35 1421.98h17.55v15.13h-17.55zM351.35 1362.67h17.55v15.13h-17.55zM351.35 1244.04h17.55v15.13h-17.55zM351.35 1169.90h17.55v15.13h-17.55zM351.35 1155.08h17.55v15.13h-17.55zM351.35 1110.59h17.55v15.13h-17.55zM351.35 917.83h17.55v15.13h-17.55zM368.60 1525.78h17.55v15.13h-17.55zM368.60 1510.95h17.55v15.13h-17.55zM368.60 1318.18h17.55v15.13h-17.55zM368.60 1273.70h17.55v15.13h-17.55zM368.60 1199.56h17.55v15.13h-17.55zM368.60 1110.59h17.55v15.13h-17.55zM368.60 947.48h17.55v15.13h-17.55zM385.85 1481.29h17.55v15.13h-17.55zM385.85 1466.46h17.55v15.13h-17.55zM385.85 1436.81h17.55v15.13h-17.55zM403.10 1392.32h17.55v15.13h-17.55zM403.10 1362.67h17.55v15.13h-17.55zM403.10 1303.36h17.55v15.13h-17.55zM420.35 1288.53h17.55v15.13h-17.55zM437.60 1288.53h17.55v15.13h-17.55zM437.60 1080.94h17.55v15.13h-17.55zM489.35 1169.90h17.55v15.13h-17.55zM523.85 1169.90h17.55v15.13h-17.55zM541.10 1362.67h17.55v15.13h-17.55zM541.10 1273.70h17.55v15.13h-17.55zM592.85 1288.53h17.55v15.13h-17.55zM644.60 1496.12h17.55v15.13h-17.55zM644.60 1347.84h17.55v15.13h-17.55z"/>
<path fill="#21918c" d="M265.10 1436.81h17.55v15.13h-17.55zM282.35 1392.32h17.55v15.13h-17.55zM299.60 1333.01h17.55v15.13h-17.55zM316.85 1288.53h17.55v15.13h-17.55zM334.10 1570.26h17.55v15.13h-17.55zM334.10 1555.43h17.55v15.13h-17.55zM334.10 1510.95h17.55v15.13h-17.55zM334.10 1392.32h17.55v15.13h-17.55zM334.10 1318.18h17.55v15.13h-17.55zM351.35 1510.95h17.55v15.13h-17.55zM351.35 1481.29h17.55v15.13h-17.55zM351.35 1303.36h17.55v15.13h-17.55zM351.35 1273.70h17.55v15.13h-17.55zM368.60 1599.92h17.55v15.13h-17.55zM368.60 1229.22h17.55v15.13h-17.55zM385.85 1288.53h17.55v15.13h-17.55zM385.85 1273.70h17.55v15.13h-17.55zM403.10 1377.50h17.55v15.13h-17.55zM454.85 1318.18h17.55v15.13h-17.55zM454.85 1303.36h17.55v15.13h-17.55zM541.10 1244.04h17.55v15.13h-17.55zM558.35 1333.01h17.55v15.13h-17.55zM627.35 1525.78h17.55v15.13h-17.55z"/>
<path fill="#fde725" d="M265.10 1258.87h17.55v15.13h-17.55zM265.10 1214.39h17.55v15.13h-17.55zM265.10 1021.62h17.55v15.13h-17.55zM282.35 1347.84h17.55v15.13h-17.55zM282.35 1229.22h17.55v15.13h-17.55zM299.60 1407.15h17.55v15.13h-17.55zM299.60 1392.32h17.55v15.13h-17.55zM334.10 1421.98h17.55v15.13h-17.55zM334.10 1407.15h17.55v15.13h-17.55zM334.10 1288.53h17.55v15.13h-17.55zM334.10 1125.42h17.55v15.13h-17.55zM334.10 991.97h17.55v15.13h-17.55zM351.35 1540.60h17.55v15.13h-17.55zM351.35 1496.12h17.55v15.13h-17.55zM351.35 1377.50h17.55v15.13h-17.55zM351.35 1288.53h17.55v15.13h-17.55zM351.35 1214.39h17.55v15.13h-17.55zM351.35 1199.56h17.55v15.13h-17.55zM351.35 1066.11h17.55v15.13h-17.55zM368.60 1629.57h17.55v15.13h-17.55zM368.60 1614.74h17.55v15.13h-17.55zM368.60 1496.12h17.55v15.13h-17.55zM368.60 1421.98h17.55v15.13h-17.55zM368.60 1407.15h17.55v15.13h-17.55zM368.60 1392.32h17.55v15.13h-17.55zM368.60 1184.73h17.55v15.13h-17.55zM368.60 1125.42h17.55v15.13h-17.55zM385.85 1585.09h17.55v15.13h-17.55zM385.85 1555.43h17.55v15.13h-17.55zM385.85 1540.60h17.55v15.13h-17.55zM385.85 1421.98h17.55v15.13h-17.55zM385.85 1407.15h17.55v15.13h-17.55zM385.85 1392.32h17.55v15.13h-17.55zM385.85 1333.01h17.55v15.13h-17.55zM385.85 1318.18h17.55v15.13h-17.55zM385.85 1244.04h17.55v15.13h-17.55zM385.85 1199.56h17.55v15.13h-17.55zM385.85 1066.11h17.55v15.13h-17.55zM403.10 1629.57h17.55v15.13h-17.55zM403.10 1407.15h17.55v15.13h-17.55zM403.10 1273.70h17.55v15.13h-17.55zM403.10 1229.22h17.55v15.13h-17.55zM403.10 1214.39h17.55v15.13h-17.55zM403.10 1169.90h17.55v15.13h-17.55zM403.10 1140.25h17.55v15.13h-17.55zM420.35 1629.57h17.55v15.13h-17.55zM420.35 1407.15h17.55v15.13h-17.55zM420.35 1362.67h17.55v15.13h-17.55zM420.35 1333.01h17.55v15.13h-17.55zM420.35 1318.18h17.55v15.13h-17.55zM420.35 1303.36h17.55v15.13h-17.55zM420.35 1258.87h17.55v15.13h-17.55zM420.35 1244.04h17.55v15.13h-17.55zM420.35 1229.22h17.55v15.13h-17.55zM420.35 1214.39h17.55v15.13h-17.55zM420.35 1184.73h17.55v15.13h-17.55zM420.35 1169.90h17.55v15.13h-17.55zM420.35 1051.28h17.55v15.13h-17.55zM420.35 1021.62h17.55v15.13h-17.55zM437.60 1614.74h17.55v15.13h-17.55zM437.60 1347.84h17.55v15.13h-17.55zM437.60 1333.01h17.55v15.13h-17.55zM437.60 1318.18h17.55v15.13h-17.55zM437.60 1303.36h17.55v15.13h-17.55zM437.60 1273.70h17.55v15.13h-17.55zM437.60 1244.04h17.55v15.13h-17.55zM437.60 1229.22h17.55v15.13h-17.55zM437.60 1214.39h17.55v15.13h-17.55zM437.60 1199.56h17.55v15.13h-17.55zM437.60 1169.90h17.55v15.13h-17.55zM437.60 1155.08h17.55v15.13h-17.55zM454.85 1599.92h17.55v15.13h-17.55zM454.85 1421.98h17.55v15.13h-17.55zM454.85 1377.50h17.55v15.13h-17.55zM454.85 1347.84h17.55v15.13h-17.55zM454.85 1288.53h17.55v15.13h-17.55zM454.85 1273.70h17.55v15.13h-17.55zM454.85 1214.39h17.55v15.13h-17.55zM454.85 1199.56h17.55v15.13h-17.55zM454.85 1169.90h17.55v15.13h-17.55zM454.85 1125.42h17.55v15.13h-17.55zM454.85 1110.59h17.55v15.13h-17.55zM472.10 1392.32h17.55v15.13h-17.55zM472.10 1333.01h17.55v15.13h-17.55zM472.10 1303.36h17.55v15.13h-17.55zM472.10 1288.53h17.55v15.13h-17.55zM472.10 1229.22h17.55v15.13h-17.55zM472.10 1214.39h17.55v15.13h-17.55zM472.10 1199.56h17.55v15.13h-17.55zM472.10 1184.73h17.55v15.13h-17.55zM472.10 1080.94h17.55v15.13h-17.55zM489.35 1540.60h17.55v15.13h-17.55zM489.35 1481.29h17.55v15.13h-17.55zM489.35 1466.46h17.55v15.13h-17.55zM489.35 1436.81h17.55v15.13h-17.55zM489.35 1362.67h17.55v15.13h-17.55zM489.35 1347.84h17.55v15.13h-17.55zM489.35 1333.01h17.55v15.13h-17.55zM489.35 1273.70h17.55v15.13h-17.55zM489.35 1258.87h17.55v15.13h-17.55zM489.35 1244.04h17.55v15.13h-17.55zM489.35 1155.08h17.55v15.13h-17.55zM489.35 1110.59h17.55v15.13h-17.55zM506.60 1377.50h17.55v15.13h-17.55zM506.60 1362.67h17.55v15.13h-17.55zM506.60 1333.01h17.55v15.13h-17.55zM506.60 1318.18h17.55v15.13h-17.55zM506.60 1288.53h17.55v15.13h-17.55zM506.60 1273.70h17.55v15.13h-17.55zM506.60 1258.87h17.55v15.13h-17.55zM506.60 1244.04h17.55v15.13h-17.55zM506.60 1229.22h17.55v15.13h-17.55zM506.60 1214.39h17.55v15.13h-17.55zM506.60 1199.56h17.55v15.13h-17.55zM506.60 1184.73h17.55v15.13h-17.55zM523.85 1481.29h17.55v15.13h-17.55zM523.85 1451.64h17.55v15.13h-17.55zM523.85 1392.32h17.55v15.13h-17.55zM523.85 1377.50h17.55v15.13h-17.55zM523.85 1347.84h17.55v15.13h-17.55zM523.85 1333.01h17.55v15.13h-17.55zM523.85 1318.18h17.55v15.13h-17.55zM523.85 1303.36h17.55v15.13h-17.55zM523.85 1258.87h17.55v15.13h-17.55zM523.85 1229.22h17.55v15.13h-17.55zM523.85 1214.39h17.55v15.13h-17.55zM523.85 1184.73h17.55v15.13h-17.55zM541.10 1629.57h17.55v15.13h-17.55zM541.10 1570.26h17.55v15.13h-17.55zM541.10 1540.60h17.55v15.13h-17.55zM541.10 1525.78h17.55v15.13h-17.55zM541.10 1496.12h17.55v15.13h-17.55zM541.10 1466.46h17.55v15.13h-17.55zM541.10 1451.64h17.55v15.13h-17.55zM541.10 1407.15h17.55v15.13h-17.55zM541.10 1392.32h17.55v15.13h-17.55zM541.10 1333.01h17.55v15.13h-17.55zM541.10 1303.36h17.55v15.13h-17.55zM541.10 1288.53h17.55v15.13h-17.55zM541.10 1258.87h17.55v15.13h-17.55zM541.10 1184.73h17.55v15.13h-17.55zM541.10 1155.08h17.55v15.13h-17.55zM558.35 1629.57h17.55v15.13h-17.55zM558.35 1585.09h17.55v15.13h-17.55zM558.35 1451.64h17.55v15.13h-17.55zM558.35 1421.98h17.55v15.13h-17.55zM558.35 1392.32h17.55v15.13h-17.55zM558.35 1362.67h17.55v15.13h-17.55zM558.35 1347.84h17.55v15.13h-17.55zM558.35 1303.36h17.55v15.13h-17.55zM558.35 1229.22h17.55v15.13h-17.55zM575.60 1481.29h17.55v15.13h-17.55zM575.60 1436.81h17.55v15.13h-17.55zM575.60 1377.50h17.55v15.13h-17.55zM575.60 1333.01h17.55v15.13h-17.55zM575.60 1303.36h17.55v15.13h-17.55zM575.60 1258.87h17.55v15.13h-17.55zM592.85 1629.57h17.55v15.13h-17.55zM592.85 1614.74h17.55v15.13h-17.55zM592.85 1599.92h17.55v15.13h-17.55zM592.85 1585.09h17.55v15.13h-17.55zM592.85 1570.26h17.55v15.13h-17.55zM592.85 1540.60h17.55v15.13h-17.55zM592.85 1510.95h17.55v15.13h-17.55zM592.85 1496.12h17.55v15.13h-17.55zM592.85 1466.46h17.55v15.13h-17.55zM592.85 1451.64h17.55v15.13h-17.55zM592.85 1436.81h17.55v15.13h-17.55zM592.85 1421.98h17.55v15.13h-17.55zM592.85 1392.32h17.55v15.13h-17.55zM592.85 1347.84h17.55v15.13h-17.55zM610.10 1585.09h17.55v15.13h-17.55zM610.10 1570.26h17.55v15.13h-17.55zM610.10 1555.43h17.55v15.13h-17.55zM610.10 1540.60h17.55v15.13h-17.55zM610.10 1525.78h17.55v15.13h-17.55zM610.10 1510.95h17.55v15.13h-17.55zM610.10 1496.12h17.55v15.13h-17.55zM610.10 1481.29h17.55v15.13h-17.55zM610.10 1466.46h17.55v15.13h-17.55zM610.10 1451.64h17.55v15.13h-17.55zM610.10 1436.81h17.55v15.13h-17.55zM610.10 1347.84h17.55v15.13h-17.55zM610.10 1333.01h17.55v15.13h-17.55zM627.35 1629.57h17.55v15.13h-17.55zM627.35 1614.74h17.55v15.13h-17.55zM627.35 1599.92h17.55v15.13h-17.55zM627.35 1585.09h17.55v15.13h-17.55zM627.35 1570.26h17.55v15.13h-17.55zM627.35 1555.43h17.55v15.13h-17.55zM627.35 1540.60h17.55v15.13h-17.55zM627.35 1451.64h17.55v15.13h-17.55zM627.35 1421.98h17.55v15.13h-17.55zM627.35 1377.50h17.55v15.13h-17.55zM627.35 1273.70h17.55v15.13h-17.55zM644.60 1614.74h17.55v15.13h-17.55zM644.60 1599.92h17.55v15.13h-17.55zM644.60 1585.09h17.55v15.13h-17.55zM644.60 1555.43h17.55v15.13h-17.55zM644.60 1481.29h17.55v15.13h-17.55zM661.85 1466.46h17.55v15.13h-17.55zM679.10 1318.18h17.55v15.13h-17.55zM696.35 1585.09h17.55v15.13h-17.55zM696.35 1570.26h17.55v15.13h-17.55zM696.35 1525.78h17.55v15.13h-17.55zM696.35 1496.12h17.55v15.13h-17.55zM696.35 1481.29h17.55v15.13h-17.55zM696.35 1466.46h17.55v15.13h-17.55zM696.35 1451.64h17.55v15.13h-17.55zM696.35 1436.81h17.55v15.13h-17.55zM696.35 977.14h17.55v15.13h-17.55zM713.60 1599.92h17.55v15.13h-17.55zM713.60 1585.09h17.55v15.13h-17.55zM713.60 1555.43h17.55v15.13h-17.55zM713.60 1540.60h17.55v15.13h-17.55zM713.60 1510.95h17.55v15.13h-17.55zM713.60 1496.12h17.55v15.13h-17.55zM713.60 1451.64h17.55v15.13h-17.55zM713.60 1407.15h17.55v15.13h-17.55zM713.60 1377.50h17.55v15.13h-17.55zM730.85 1510.95h17.55v15.13h-17.55zM730.85 1496.12h17.55v15.13h-17.55zM730.85 1481.29h17.55v15.13h-17.55zM730.85 1466.46h17.55v15.13h-17.55zM730.85 1451.64h17.55v15.13h-17.55zM730.85 1436.81h17.55v15.13h-17.55zM730.85 1421.98h17.55v15.13h-17.55zM730.85 1318.18h17.55v15.13h-17.55zM748.10 1540.60h17.55v15.13h-17.55zM748.10 1318.18h17.55v15.13h-17.55zM886.10 1481.29h17.55v15.13h-17.55zM886.10 1421.98h17.55v15.13h-17.55z"/>
<path fill="#31678e" d="M316.85 1362.67h17.55v15.13h-17.55zM385.85 1451.64h17.55v15.13h-17.55zM403.10 1333.01h17.55v15.13h-17.55zM403.10 1258.87h17.55v15.13h-17.55zM420.35 1273.70h17.55v15.13h-17.55zM472.10 1347.84h17.55v15.13h-17.55zM472.10 1169.90h17.55v15.13h-17.55z"/>
<path fill="#2f6c8e" d="M351.35 1599.92h17.55v15.13h-17.55z"/>
<path fill="#20a386" d="M351.35 1585.09h17.55v15.13h-17.55zM351.35 1525.78h17.55v15.13h-17.55zM454.85 1258.87h17.55v15.13h-17.55z"/>
<path fill="#54c568" d="M351.35 1570.26h17.55v15.13h-17.55zM403.10 1570.26h17.55v15.13h-17.55zM454.85 1392.32h17.55v15.13h-17.55z"/>
<path fill="#2a788e" d="M351.35 1555.43h17.55v15.13h-17.55z"/>
<path fill="#31b57b" d="M368.60 1585.09h17.55v15.13h-17.55zM385.85 1525.78h17.55v15.13h-17.55zM403.10 1525.78h17.55v15.13h-17.55zM592.85 1407.15h17.55v15.13h-17.55z"/>
<path fill="#a0da39" d="M368.60 1570.26h17.55v15.13h-17.55zM403.10 1614.74h17.55v15.13h-17.55zM420.35 1481.29h17.55v15.13h-17.55zM420.35 1466.46h17.55v15.13h-17.55zM420.35 1392.32h17.55v15.13h-17.55zM420.35 1377.50h17.55v15.13h-17.55zM437.60 1525.78h17.55v15.13h-17.55zM437.60 1466.46h17.55v15.13h-17.55zM454.85 1540.60h17.55v15.13h-17.55zM454.85 1184.73h17.55v15.13h-17.55zM472.10 1362.67h17.55v15.13h-17.55zM541.10 1421.98h17.55v15.13h-17.55zM713.60 1525.78h17.55v15.13h-17.55zM713.60 1392.32h17.55v15.13h-17.55z"/>
<path fill="#63cb5f" d="M368.60 1555.43h17.55v15.13h-17.55zM403.10 1466.46h17.55v15.13h-17.55zM420.35 1347.84h17.55v15.13h-17.55zM437.60 1629.57h17.55v15.13h-17.55zM454.85 1525.78h17.55v15.13h-17.55zM454.85 1362.67h17.55v15.13h-17.55zM454.85 1244.04h17.55v15.13h-17.55z"/>
<path fill="#228b8d" d="M368.60 1540.60h17.55v15.13h-17.55zM385.85 1570.26h17.55v15.13h-17.55zM385.85 1496.12h17.55v15.13h-17.55zM437.60 1258.87h17.55v15.13h-17.55zM454.85 1229.22h17.55v15.13h-17.55zM472.10 1258.87h17.55v15.13h-17.55zM541.10 1347.84h17.55v15.13h-17.55z"/>
<path fill="#8ed645" d="M385.85 1510.95h17.55v15.13h-17.55zM403.10 1510.95h17.55v15.13h-17.55zM403.10 1481.29h17.55v15.13h-17.55zM420.35 1436.81h17.55v15.13h-17.55zM437.60 1570.26h17.55v15.13h-17.55zM437.60 1555.43h17.55v15.13h-17.55zM523.85 1362.67h17.55v15.13h-17.55zM575.60 1392.32h17.55v15.13h-17.55z"/>
<path fill="#27ad81" d="M403.10 1599.92h17.55v15.13h-17.55zM403.10 1585.09h17.55v15.13h-17.55zM403.10 1540.60h17.55v15.13h-17.55zM420.35 1421.98h17.55v15.13h-17.55z"/>
<path fill="#75d054" d="M403.10 1555.43h17.55v15.13h-17.55zM403.10 1421.98h17.55v15.13h-17.55zM403.10 1244.04h17.55v15.13h-17.55zM420.35 1540.60h17.55v15.13h-17.55zM420.35 1525.78h17.55v15.13h-17.55zM472.10 1629.57h17.55v15.13h-17.55zM489.35 1303.36h17.55v15.13h-17.55zM610.10 1599.92h17.55v15.13h-17.55z"/>
<path fill="#addc30" d="M403.10 1496.12h17.55v15.13h-17.55zM403.10 1436.81h17.55v15.13h-17.55zM420.35 1496.12h17.55v15.13h-17.55zM437.60 1392.32h17.55v15.13h-17.55z"/>
<path fill="#3fbc73" d="M403.10 1451.64h17.55v15.13h-17.55zM437.60 1362.67h17.55v15.13h-17.55z"/>
<path fill="#463480" d="M403.10 1347.84h17.55v15.13h-17.55z"/>
<path fill="#2c738e" d="M403.10 1318.18h17.55v15.13h-17.55z"/>
<path fill="#cde11d" d="M420.35 1614.74h17.55v15.13h-17.55zM420.35 1585.09h17.55v15.13h-17.55zM437.60 1451.64h17.55v15.13h-17.55zM454.85 1466.46h17.55v15.13h-17.55zM454.85 1451.64h17.55v15.13h-17.55zM472.10 1599.92h17.55v15.13h-17.55zM472.10 1466.46h17.55v15.13h-17.55zM489.35 1510.95h17.55v15.13h-17.55zM489.35 1451.64h17.55v15.13h-17.55zM489.35 1392.32h17.55v15.13h-17.55zM489.35 1377.50h17.55v15.13h-17.55zM506.60 1436.81h17.55v15.13h-17.55zM575.60 1525.78h17.55v15.13h-17.55zM713.60 1481.29h17.55v15.13h-17.55zM713.60 1466.46h17.55v15.13h-17.55z"/>
<path fill="#c0df25" d="M420.35 1599.92h17.55v15.13h-17.55zM437.60 1599.92h17.55v15.13h-17.55zM437.60 1436.81h17.55v15.13h-17.55zM437.60 1421.98h17.55v15.13h-17.55zM454.85 1614.74h17.55v15.13h-17.55zM454.85 1585.09h17.55v15.13h-17.55zM454.85 1496.12h17.55v15.13h-17.55zM454.85 1407.15h17.55v15.13h-17.55zM472.10 1481.29h17.55v15.13h-17.55zM541.10 1614.74h17.55v15.13h-17.55zM575.60 1466.46h17.55v15.13h-17.55zM575.60 1407.15h17.55v15.13h-17.55zM592.85 1555.43h17.55v15.13h-17.55z"/>
<path fill="#81d34d" d="M420.35 1570.26h17.55v15.13h-17.55zM420.35 1555.43h17.55v15.13h-17.55zM420.35 1510.95h17.55v15.13h-17.55zM437.60 1540.60h17.55v15.13h-17.55zM437.60 1496.12h17.55v15.13h-17.55zM523.85 1421.98h17.55v15.13h-17.55zM558.35 1407.15h17.55v15.13h-17.55zM558.35 1377.50h17.55v15.13h-17.55z"/>
<path fill="#95d840" d="M420.35 1451.64h17.55v15.13h-17.55zM454.85 1510.95h17.55v15.13h-17.55z"/>
<path fill="#dfe318" d="M437.60 1585.09h17.55v15.13h-17.55zM472.10 1614.74h17.55v15.13h-17.55zM472.10 1585.09h17.55v15.13h-17.55zM472.10 1555.43h17.55v15.13h-17.55zM472.10 1525.78h17.55v15.13h-17.55zM472.10 1451.64h17.55v15.13h-17.55zM472.10 1436.81h17.55v15.13h-17.55zM489.35 1614.74h17.55v15.13h-17.55zM489.35 1599.92h17.55v15.13h-17.55zM489.35 1570.26h17.55v15.13h-17.55zM489.35 1525.78h17.55v15.13h-17.55zM489.35 1496.12h17.55v15.13h-17.55zM489.35 1407.15h17.55v15.13h-17.55zM506.60 1629.57h17.55v15.13h-17.55zM506.60 1614.74h17.55v15.13h-17.55zM506.60 1555.43h17.55v15.13h-17.55zM506.60 1510.95h17.55v15.13h-17.55zM506.60 1496.12h17.55v15.13h-17.55zM506.60 1481.29h17.55v15.13h-17.55zM506.60 1466.46h17.55v15.13h-17.55zM506.60 1451.64h17.55v15.13h-17.55zM506.60 1421.98h17.55v15.13h-17.55zM506.60 1407.15h17.55v15.13h-17.55zM523.85 1629.57h17.55v15.13h-17.55zM523.85 1599.92h17.55v15.13h-17.55zM523.85 1570.26h17.55v15.13h-17.55zM523.85 1525.78h17.55v15.13h-17.55zM523.85 1436.81h17.55v15.13h-17.55zM541.10 1599.92h17.55v15.13h-17.55zM558.35 1614.74h17.55v15.13h-17.55zM558.35 1599.92h17.55v15.13h-17.55zM558.35 1540.60h17.55v15.13h-17.55zM558.35 1496.12h17.55v15.13h-17.55zM558.35 1481.29h17.55v15.13h-17.55zM558.35 1466.46h17.55v15.13h-17.55zM558.35 1436.81h17.55v15.13h-17.55zM575.60 1614.74h17.55v15.13h-17.55zM575.60 1555.43h17.55v15.13h-17.55zM575.60 1540.60h17.55v15.13h-17.55zM575.60 1451.64h17.55v15.13h-17.55zM575.60 1421.98h17.55v15.13h-17.55zM713.60 1436.81h17.55v15.13h-17.55z"/>
<path fill="#58c765" d="M437.60 1510.95h17.55v15.13h-17.55z"/>
<path fill="#b2dd2d" d="M437.60 1481.29h17.55v15.13h-17.55zM437.60 1377.50h17.55v15.13h-17.55zM454.85 1436.81h17.55v15.13h-17.55zM472.10 1377.50h17.55v15.13h-17.55zM489.35 1629.57h17.55v15.13h-17.55zM489.35 1318.18h17.55v15.13h-17.55zM523.85 1466.46h17.55v15.13h-17.55zM523.85 1407.15h17.55v15.13h-17.55zM541.10 1481.29h17.55v15.13h-17.55zM592.85 1481.29h17.55v15.13h-17.55zM713.60 1421.98h17.55v15.13h-17.55z"/>
<path fill="#d2e21b" d="M437.60 1407.15h17.55v15.13h-17.55zM454.85 1481.29h17.55v15.13h-17.55zM472.10 1510.95h17.55v15.13h-17.55zM506.60 1585.09h17.55v15.13h-17.55zM541.10 1510.95h17.55v15.13h-17.55zM541.10 1436.81h17.55v15.13h-17.55zM558.35 1555.43h17.55v15.13h-17.55z"/>
<path fill="#ece51b" d="M454.85 1629.57h17.55v15.13h-17.55zM454.85 1570.26h17.55v15.13h-17.55zM454.85 1555.43h17.55v15.13h-17.55zM472.10 1570.26h17.55v15.13h-17.55zM472.10 1540.60h17.55v15.13h-17.55zM472.10 1496.12h17.55v15.13h-17.55zM472.10 1421.98h17.55v15.13h-17.55zM472.10 1407.15h17.55v15.13h-17.55zM489.35 1585.09h17.55v15.13h-17.55zM489.35 1555.43h17.55v15.13h-17.55zM489.35 1421.98h17.55v15.13h-17.55zM506.60 1599.92h17.55v15.13h-17.55zM506.60 1570.26h17.55v15.13h-17.55zM506.60 1540.60h17.55v15.13h-17.55zM506.60 1525.78h17.55v15.13h-17.55zM506.60 1392.32h17.55v15.13h-17.55zM523.85 1614.74h17.55v15.13h-17.55zM523.85 1585.09h17.55v15.13h-17.55zM523.85 1555.43h17.55v15.13h-17.55zM523.85 1540.60h17.55v15.13h-17.55zM523.85 1510.95h17.55v15.13h-17.55zM523.85 1496.12h17.55v15.13h-17.55zM541.10 1585.09h17.55v15.13h-17.55zM541.10 1555.43h17.55v15.13h-17.55zM558.35 1570.26h17.55v15.13h-17.55zM558.35 1525.78h17.55v15.13h-17.55zM558.35 1510.95h17.55v15.13h-17.55zM575.60 1629.57h17.55v15.13h-17.55zM575.60 1599.92h17.55v15.13h-17.55zM575.60 1585.09h17.55v15.13h-17.55zM575.60 1570.26h17.55v15.13h-17.55zM575.60 1510.95h17.55v15.13h-17.55zM575.60 1496.12h17.55v15.13h-17.55zM592.85 1525.78h17.55v15.13h-17.55z"/>
<path fill="#2ab07f" d="M472.10 1273.70h17.55v15.13h-17.55zM489.35 1288.53h17.55v15.13h-17.55z"/>
</g>
<g clip-path="url(#hclip2)" stroke="#000" stroke-opacity="0.3" stroke-width="3.0" fill="none">
<path d="M122.1 801.9L339.1 584.9M122.1 882.4L339.1 665.4M122.1 962.9L339.1 745.9M122.1 1043.4L339.1 826.4M122.1 1123.9L339.1 906.9M122.1 1204.4L339.1 987.4M122.1 1284.9L339.1 1067.9M122.1 1365.4L339.1 1148.4M122.1 1445.9L339.1 1228.9M122.1 1526.4L339.1 1309.4M122.1 1606.9L339.1 1389.9M122.1 1687.4L339.1 1470.4M122.1 1767.9L339.1 1550.9M122.1 1848.4L339.1 1631.4M122.1 1928.9L339.1 1711.9M122.1 2009.4L339.1 1792.4M122.1 2089.9L339.1 1872.9M122.1 2170.4L339.1 1953.4"/></g>
<g clip-path="url(#clip2)">
<path d="M479.9 1636.8L462.8 1627.8L446.3 1631.7L428.4 1635.5L413.1 1629.1L406.8 1621.5L403.5 1607.5L399.9 1594.7L397.8 1579.4L396.6 1553.9L395.8 1528.4L395.3 1508.0L397.3 1487.6L400.4 1472.4L406.8 1457.1L411.9 1446.9L415.7 1430.3L425.9 1420.1L434.8 1413.7L445.8 1404.3L462.8 1411.2L467.9 1398.4L473.0 1383.1L481.5 1374.7L497.3 1375.0L512.6 1385.7L521.5 1395.9L527.8 1408.6L530.4 1423.9L530.4 1436.7L532.4 1449.4L549.5 1437.9L553.3 1426.5L561.0 1411.2L567.4 1402.8L582.7 1408.6L590.3 1417.6L595.4 1430.3L596.7 1452.0L600.5 1472.4L601.3 1490.2" fill="none" stroke="#ff0000" stroke-width="3.0" stroke-linejoin="round" stroke-linecap="butt"/>
<path d="M613.2 1516.2L615.8 1528.4L616.6 1543.7L613.2 1561.6L613.2 1575.6L604.3 1592.2L613.2 1607.5L604.3 1624.0L594.1 1631.7L584.4 1636.8" fill="none" stroke="#ff0000" stroke-width="3.0" stroke-linejoin="round" stroke-linecap="butt"/>
<text transform="translate(608.7 1503.5) rotate(80)" text-anchor="middle" dy="0.36em" font-family="'DejaVu Serif', 'Liberation Serif', serif" font-size="12.5" fill="#ff0000" stroke="#ff0000" stroke-width="0.35">10</text>
<path d="M421.5 1484.3L417.0 1497.8L414.4 1515.7L417.0 1533.5L418.2 1551.4L420.8 1566.7L423.3 1576.9L428.4 1583.2L445.8 1588.3L453.9 1579.4L463.6 1561.6L478.1 1575.6L484.5 1589.6L492.2 1604.9L503.6 1620.2L515.1 1629.1L526.6 1621.5L532.9 1608.7L549.5 1596.0L566.1 1603.6L583.9 1608.7L590.3 1593.4L589.0 1579.4L592.8 1553.9L594.1 1528.4L591.6 1515.7L586.5 1504.2L583.9 1495.8L581.4 1502.4L567.4 1509.3L561.5 1518.2L561.5 1533.5L558.4 1548.8L549.5 1567.9L539.3 1575.6L532.4 1578.1L527.8 1559.0L524.8 1548.8L521.5 1528.4L520.2 1508.0L516.4 1487.6L510.0 1474.9L504.4 1457.1L497.3 1435.4L481.5 1443.8L476.9 1458.3L463.6 1468.0L453.9 1456.6L445.0 1449.9" fill="none" stroke="#ff0000" stroke-width="3.0" stroke-linejoin="round" stroke-linecap="butt"/>
<text transform="translate(428.4 1469.8) rotate(-85)" text-anchor="middle" dy="0.36em" font-family="'DejaVu Serif', 'Liberation Serif', serif" font-size="12.5" fill="#ff0000" stroke="#ff0000" stroke-width="0.35">100</text>
<circle cx="445.8" cy="1517.5" r="2.5" fill="#ff0000"/>
<circle cx="503.9" cy="1533.5" r="2.5" fill="#ff0000"/>
<circle cx="543.1" cy="1584.5" r="2.5" fill="#ff0000"/>
<circle cx="582.7" cy="1548.1" r="2.5" fill="#ff0000"/>
<circle cx="549.5" cy="1636.8" r="2.5" fill="#ff0000"/>
<path d="M357.3 1584.9L359.4 1592.1L367.5 1601.4L377.2 1610.7L382.6 1597.2L386.0 1576.9L380.6 1568.8" fill="none" stroke="#ff0000" stroke-width="3.0" stroke-linejoin="round" stroke-linecap="butt"/>
<text transform="translate(358.7 1573.9) rotate(-75)" text-anchor="middle" dy="0.36em" font-family="'DejaVu Serif', 'Liberation Serif', serif" font-size="12.5" fill="#ff0000" stroke="#ff0000" stroke-width="0.35">10</text>
<circle cx="371.2" cy="1557.0" r="2.5" fill="#ff0000"/>
<circle cx="369.5" cy="1588.4" r="2.5" fill="#ff0000"/>
<circle cx="370.3" cy="1401.1" r="2.5" fill="#ff0000"/>
<path d="M712.4 1427.3L710.5 1437.1L708.8 1448.8L707.6 1459.0L708.4 1468.4L709.6 1478.6L711.3 1488.4L715.9 1495.1L720.8 1502.9L719.6 1510.8L718.6 1518.6L722.0 1525.7L726.9 1518.6L726.5 1510.8L725.9 1502.9L729.2 1495.1L733.9 1485.7L736.3 1476.3L737.8 1466.9L738.6 1458.2L737.1 1448.8L735.5 1438.6L733.9 1429.2L730.8 1422.9L726.9 1415.9L724.5 1409.6L722.5 1404.9" fill="none" stroke="#ff0000" stroke-width="3.0" stroke-linejoin="round" stroke-linecap="butt"/>
<text transform="translate(717.1 1416.7) rotate(-80)" text-anchor="middle" dy="0.36em" font-family="'DejaVu Serif', 'Liberation Serif', serif" font-size="12.5" fill="#ff0000" stroke="#ff0000" stroke-width="0.35">10</text>
<circle cx="721.9" cy="1475.7" r="2.5" fill="#ff0000"/>
</g>
<line x1="334.10" y1="903.0" x2="334.10" y2="1644.4" stroke="#1b0f7a" stroke-width="1.5" stroke-dasharray="1.5 3.0"/>
<line x1="396.20" y1="903.0" x2="396.20" y2="1644.4" stroke="#1b0f7a" stroke-width="1.5" stroke-dasharray="1.5 3.0"/>
<line x1="472.10" y1="903.0" x2="472.10" y2="1644.4" stroke="#1b0f7a" stroke-width="1.5" stroke-dasharray="1.5 3.0"/>
<line x1="527.30" y1="903.0" x2="527.30" y2="1644.4" stroke="#1b0f7a" stroke-width="1.5" stroke-dasharray="1.5 3.0"/>
<line x1="549.73" y1="903.0" x2="549.73" y2="1644.4" stroke="#1b0f7a" stroke-width="1.5" stroke-dasharray="1.5 3.0"/>
<line x1="604.92" y1="903.0" x2="604.92" y2="1644.4" stroke="#1b0f7a" stroke-width="1.5" stroke-dasharray="1.5 3.0"/>
<line x1="903.35" y1="903.0" x2="903.35" y2="1644.4" stroke="#1b0f7a" stroke-width="1.5" stroke-dasharray="1.5 3.0"/>
<text transform="translate(352.70 931.5) rotate(-90)" text-anchor="middle" font-size="20.0" fill="#262626">118</text>
<text transform="translate(414.80 931.5) rotate(-90)" text-anchor="middle" font-size="20.0" fill="#262626">5911</text>
<text transform="translate(490.70 931.5) rotate(-90)" text-anchor="middle" font-size="20.0" fill="#262626">6127</text>
<text transform="translate(545.90 931.5) rotate(-90)" text-anchor="middle" font-size="20.0" fill="#262626">826</text>
<text transform="translate(568.33 931.5) rotate(-90)" text-anchor="middle" font-size="20.0" fill="#262626">3329</text>
<text transform="translate(623.52 931.5) rotate(-90)" text-anchor="middle" font-size="20.0" fill="#262626">343</text>
<text transform="translate(921.95 931.5) rotate(-90)" text-anchor="middle" font-size="20.0" fill="#262626">53</text>
<rect x="127.1" y="903.0" width="862.5" height="741.4000000000001" fill="none" stroke="#262626" stroke-width="3.3"/>
<path d="M127.10 1644.4v16.0M213.35 1644.4v16.0M299.60 1644.4v16.0M385.85 1644.4v16.0M472.10 1644.4v16.0M558.35 1644.4v16.0M644.60 1644.4v16.0M730.85 1644.4v16.0M817.10 1644.4v16.0M903.35 1644.4v16.0M989.60 1644.4v16.0M127.1 1644.40h-16.0M127.1 1570.26h-16.0M127.1 1496.12h-16.0M127.1 1421.98h-16.0M127.1 1347.84h-16.0M127.1 1273.70h-16.0M127.1 1199.56h-16.0M127.1 1125.42h-16.0M127.1 1051.28h-16.0M127.1 977.14h-16.0M127.1 903.00h-16.0" stroke="#262626" stroke-width="3.3" fill="none"/>
<g font-size="29.5" fill="#262626">
<text x="127.10" y="1695.0" text-anchor="middle">0.5</text>
<text x="213.35" y="1695.0" text-anchor="middle">1.0</text>
<text x="299.60" y="1695.0" text-anchor="middle">1.5</text>
<text x="385.85" y="1695.0" text-anchor="middle">2.0</text>
<text x="472.10" y="1695.0" text-anchor="middle">2.5</text>
<text x="558.35" y="1695.0" text-anchor="middle">3.0</text>
<text x="644.60" y="1695.0" text-anchor="middle">3.5</text>
<text x="730.85" y="1695.0" text-anchor="middle">4.0</text>
<text x="817.10" y="1695.0" text-anchor="middle">4.5</text>
<text x="903.35" y="1695.0" text-anchor="middle">5.0</text>
<text x="989.60" y="1695.0" text-anchor="middle">5.5</text>
<text x="99.1" y="1655.70" text-anchor="end">0.0</text>
<text x="99.1" y="1581.56" text-anchor="end">0.1</text>
<text x="99.1" y="1507.42" text-anchor="end">0.2</text>
<text x="99.1" y="1433.28" text-anchor="end">0.3</text>
<text x="99.1" y="1359.14" text-anchor="end">0.4</text>
<text x="99.1" y="1285.00" text-anchor="end">0.5</text>
<text x="99.1" y="1210.86" text-anchor="end">0.6</text>
<text x="99.1" y="1136.72" text-anchor="end">0.7</text>
<text x="99.1" y="1062.58" text-anchor="end">0.8</text>
<text x="99.1" y="988.44" text-anchor="end">0.9</text>
<text x="99.1" y="914.30" text-anchor="end">1.0</text>
</g>
<text x="559.4" y="1741.6" text-anchor="middle" font-size="32.3" fill="#262626">Semi-Major Axis (<tspan font-style="italic">a</tspan>) [au]</text>
<text transform="translate(29.5 1273.7) rotate(-90)" text-anchor="middle" font-size="32.3" fill="#262626">Eccentricity (<tspan font-style="italic">e</tspan>)</text>
</g>
<defs><linearGradient id="vg" x1="0" x2="1" y1="0" y2="0">
<stop offset="0.0000" stop-color="#440154"/>
<stop offset="0.0156" stop-color="#46075a"/>
<stop offset="0.0312" stop-color="#470d60"/>
<stop offset="0.0469" stop-color="#471365"/>
<stop offset="0.0625" stop-color="#48186a"/>
<stop offset="0.0781" stop-color="#481d6f"/>
<stop offset="0.0938" stop-color="#482374"/>
<stop offset="0.1094" stop-color="#482878"/>
<stop offset="0.1250" stop-color="#472d7b"/>
<stop offset="0.1406" stop-color="#46327e"/>
<stop offset="0.1562" stop-color="#453781"/>
<stop offset="0.1719" stop-color="#443b84"/>
<stop offset="0.1875" stop-color="#424086"/>
<stop offset="0.2031" stop-color="#404588"/>
<stop offset="0.2188" stop-color="#3e4989"/>
<stop offset="0.2344" stop-color="#3d4e8a"/>
<stop offset="0.2500" stop-color="#3b528b"/>
<stop offset="0.2656" stop-color="#39568c"/>
<stop offset="0.2812" stop-color="#375b8d"/>
<stop offset="0.2969" stop-color="#355f8d"/>
<stop offset="0.3125" stop-color="#33638d"/>
<stop offset="0.3281" stop-color="#31678e"/>
<stop offset="0.3438" stop-color="#2f6b8e"/>
<stop offset="0.3594" stop-color="#2e6f8e"/>
<stop offset="0.3750" stop-color="#2c728e"/>
<stop offset="0.3906" stop-color="#2a768e"/>
<stop offset="0.4062" stop-color="#297a8e"/>
<stop offset="0.4219" stop-color="#277e8e"/>
<stop offset="0.4375" stop-color="#26828e"/>
<stop offset="0.4531" stop-color="#25858e"/>
<stop offset="0.4688" stop-color="#23898e"/>
<stop offset="0.4844" stop-color="#228d8d"/>
<stop offset="0.5000" stop-color="#21918c"/>
<stop offset="0.5156" stop-color="#1f948c"/>
<stop offset="0.5312" stop-color="#1f988b"/>
<stop offset="0.5469" stop-color="#1e9c89"/>
<stop offset="0.5625" stop-color="#1fa088"/>
<stop offset="0.5781" stop-color="#20a386"/>
<stop offset="0.5938" stop-color="#22a785"/>
<stop offset="0.6094" stop-color="#25ab82"/>
<stop offset="0.6250" stop-color="#28ae80"/>
<stop offset="0.6406" stop-color="#2db27d"/>
<stop offset="0.6562" stop-color="#32b67a"/>
<stop offset="0.6719" stop-color="#38b977"/>
<stop offset="0.6875" stop-color="#3fbc73"/>
<stop offset="0.7031" stop-color="#46c06f"/>
<stop offset="0.7188" stop-color="#4ec36b"/>
<stop offset="0.7344" stop-color="#56c667"/>
<stop offset="0.7500" stop-color="#5ec962"/>
<stop offset="0.7656" stop-color="#67cc5c"/>
<stop offset="0.7812" stop-color="#70cf57"/>
<stop offset="0.7969" stop-color="#7ad151"/>
<stop offset="0.8125" stop-color="#84d44b"/>
<stop offset="0.8281" stop-color="#8ed645"/>
<stop offset="0.8438" stop-color="#98d83e"/>
<stop offset="0.8594" stop-color="#a2da37"/>
<stop offset="0.8750" stop-color="#addc30"/>
<stop offset="0.8906" stop-color="#b8de29"/>
<stop offset="0.9062" stop-color="#c2df23"/>
<stop offset="0.9219" stop-color="#cde11d"/>
<stop offset="0.9375" stop-color="#d8e219"/>
<stop offset="0.9531" stop-color="#e2e418"/>
<stop offset="0.9688" stop-color="#ece51b"/>
<stop offset="0.9844" stop-color="#f6e620"/>
<stop offset="1.0000" stop-color="#fde725"/>
</linearGradient></defs>
<rect x="127.1" y="1818.2" width="862.5" height="43.299999999999955" fill="url(#vg)" stroke="#262626" stroke-width="3.3"/>
<path d="M127.10 1861.5v16.0M299.60 1861.5v16.0M472.10 1861.5v16.0M644.60 1861.5v16.0M817.10 1861.5v16.0M989.60 1861.5v16.0" stroke="#262626" stroke-width="3.3" fill="none"/>
<g font-size="29.5" fill="#262626">
<text x="127.10" y="1912.1" text-anchor="middle">0</text>
<text x="299.60" y="1912.1" text-anchor="middle">20</text>
<text x="472.10" y="1912.1" text-anchor="middle">40</text>
<text x="644.60" y="1912.1" text-anchor="middle">60</text>
<text x="817.10" y="1912.1" text-anchor="middle">80</text>
<text x="989.60" y="1912.1" text-anchor="middle">100</text>
</g>
<text x="558.4" y="1956.0" text-anchor="middle" font-size="32.3" fill="#262626">Completeness [%]</text>
</svg>
</body></html>
